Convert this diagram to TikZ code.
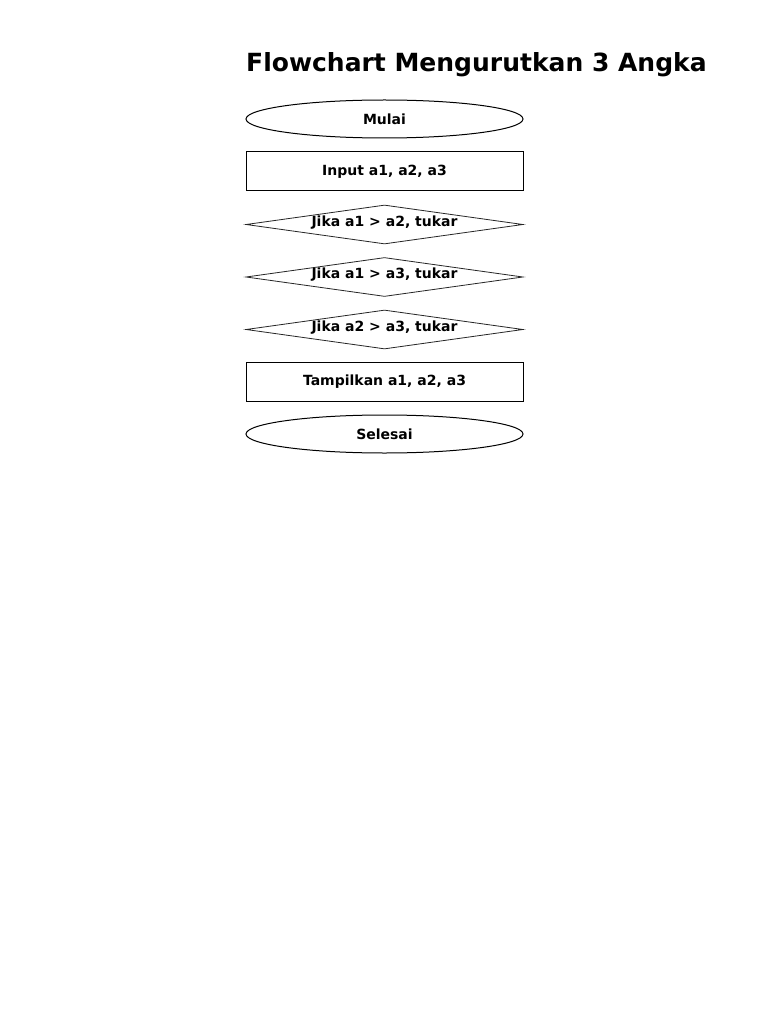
\documentclass[tikz,border=0pt]{standalone}
\usepackage{fontspec}
\setmainfont{DejaVu Sans}
\usetikzlibrary{shapes.geometric}
\begin{document}
\begin{tikzpicture}[x=1pt,y=-1pt,
  base/.style={draw=black, line width=1pt, minimum width=277pt, minimum height=39pt, inner sep=0pt, font=\fontsize{14}{16}\selectfont\bfseries},
  term/.style={base, ellipse, minimum height=38pt},
  proc/.style={base, rectangle},
  decis/.style={base, diamond, aspect=7, line width=0.8pt, draw=black!85},
  lbl/.style={font=\fontsize{14}{16}\selectfont\bfseries},
]
\useasboundingbox[fill=white] (0,0) rectangle (768,1024);
\node[anchor=base west, inner sep=0pt, font=\fontsize{25}{30}\selectfont\bfseries] (title) at (246,72) {Flowchart Mengurutkan 3 Angka};
\node[term] (mulai) at (384.5,119) {Mulai};
\node[proc] (input) at (384.5,171.5) {Input a1, a2, a3};
\node[decis, minimum height=39pt] (d1) at (384.5,224.5) {};
\node[lbl] (t1) at (384.5,222.5) {Jika a1 > a2, tukar};
\node[decis, minimum height=39pt] (d2) at (384.5,277) {};
\node[lbl] (t2) at (384.5,275) {Jika a1 > a3, tukar};
\node[decis, minimum height=39pt] (d3) at (384.5,329.5) {};
\node[lbl] (t3) at (384.5,327.5) {Jika a2 > a3, tukar};
\node[proc] (tampil) at (384.5,381.5) {Tampilkan a1, a2, a3};
\node[term] (selesai) at (384.5,434) {Selesai};
\end{tikzpicture}
\end{document}
